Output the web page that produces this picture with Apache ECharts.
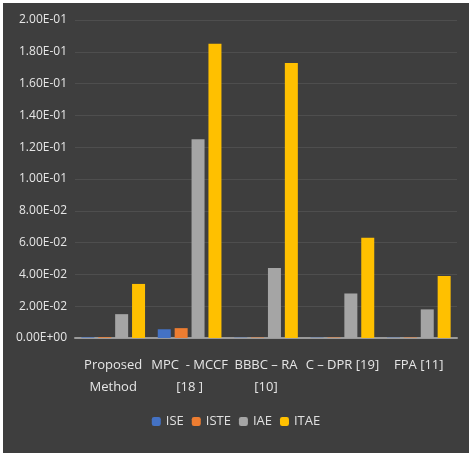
<!DOCTYPE html>
<html><head><meta charset="utf-8">
<script src="https://cdn.jsdelivr.net/npm/echarts@6/dist/echarts.min.js"></script>
<style>html,body{margin:0;background:#fff}#main{position:absolute;left:3px;top:3px;width:466px;height:450px;background:#3e3e3e}</style>
</head><body><div id="main"></div>
<script>
var categories = ['Proposed\nMethod', 'MPC  - MCCF\n[18 ]', 'BBBC – RA\n[10]', 'C – DPR [19]', 'FPA [11]'];
var ise = [0.0004, 0.0055, 0.0002, 0.0002, 0.0002];
var iste = [0.0005, 0.0062, 0.0003, 0.0003, 0.0003];
var iae = [0.015, 0.125, 0.044, 0.028, 0.018];
var itae = [0.034, 0.185, 0.173, 0.063, 0.039];

var chart = echarts.init(document.getElementById('main'));
function s(name, data, color) {
    return {name: name, type: 'bar', data: data, itemStyle: {color: color}, barWidth: 13, barGap: '30%'};
}
chart.setOption({
    textStyle: {fontFamily: 'Open Sans'},
    grid: {left: 72, right: 12, top: 17, bottom: 115},
    legend: {bottom: 20, itemWidth: 9, itemHeight: 9, itemGap: 8,
        textStyle: {color: '#e0e0e0', fontSize: 13},
        data: ['ISE', 'ISTE', 'IAE', 'ITAE']},
    xAxis: {type: 'category', data: categories,
        axisLine: {lineStyle: {color: '#9a9a9a', width: 2}}, axisTick: {show: false},
        axisLabel: {color: '#e6e6e6', fontSize: 13, interval: 0, margin: 16, lineHeight: 22}},
    yAxis: {type: 'value', min: 0, max: 0.2, interval: 0.02,
        axisLine: {show: false}, axisTick: {show: false},
        splitLine: {lineStyle: {color: '#4e4e4e'}},
        axisLabel: {color: '#e6e6e6', fontSize: 12, formatter: function (v) {
            var e = v === 0 ? '0.00E+00' : v.toExponential(2).toUpperCase().replace('E-', 'E-0').replace('E+', 'E+0');
            return e;
        }}},
    series: [s('ISE', ise, '#4472c4'), s('ISTE', iste, '#ed7d31'), s('IAE', iae, '#a5a5a5'), s('ITAE', itae, '#ffc000')]
});
</script></body></html>
